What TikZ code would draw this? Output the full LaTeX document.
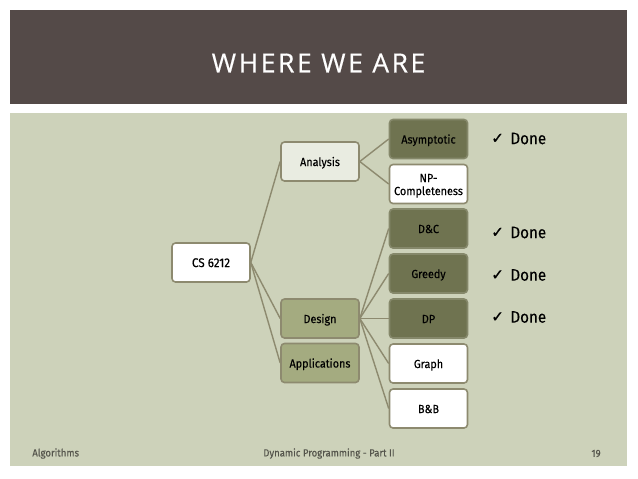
\documentclass[tikz,border=0pt]{standalone}
\usepackage{fontspec}
\setmainfont[FakeBold=0.25,FakeStretch=0.92]{Fira Sans}
\newfontfamily\titlefont[LetterSpace=10,FakeBold=0.5]{Open Sans}
\newfontfamily\checkfont[FakeBold=1.2]{DejaVu Sans}
\definecolor{headbrown}{HTML}{544A48}
\definecolor{bodysage}{HTML}{CDD2BA}
\definecolor{edgeolive}{HTML}{8D8A6F}
\definecolor{darkolive}{HTML}{6F7350}
\definecolor{midolive}{HTML}{A4AB80}
\definecolor{paleolive}{HTML}{E9ECE1}
\definecolor{footgray}{HTML}{55554C}
\newlength{\pxu}
\setlength{\pxu}{0.02cm}
\tikzset{
  box/.style={draw=edgeolive,line width=0.9pt,rounded corners=2pt,minimum width=78\pxu,minimum height=39\pxu,inner sep=0pt,align=center,font=\fontsize{6.7}{7.4}\selectfont,text=black,text height=5.2pt,text depth=0pt},
  whitebox/.style={box,fill=white},
  palebox/.style={box,fill=paleolive},
  midbox/.style={box,fill=midolive},
  darkbox/.style={box,fill=darkolive,draw=darkolive!85!white},
  link/.style={draw=edgeolive,line width=0.8pt},
  donemark/.style={font=\fontsize{9.4}{11}\selectfont,anchor=west,inner sep=0pt},
  foot/.style={font=\fontsize{5.9}{7}\selectfont,text=footgray,inner sep=0pt}
}
\begin{document}
\begin{tikzpicture}[x=0.02cm,y=-0.02cm]
	\useasboundingbox (0,0) rectangle (638,478);
	\fill[headbrown] (10,10) rectangle (627,104);
	\fill[bodysage] (10,113) rectangle (627,466);
	\node[font=\titlefont\fontsize{15}{17}\selectfont,text=white,inner sep=0pt] (title) at (318.5,63) {WHERE WE ARE};
	% tree
	\node[whitebox] (cs) at (211,262.5) {\fontsize{7.2}{8}\selectfont CS 6212};
	\node[palebox] (analysis) at (320,161.5) {Analysis};
	\node[midbox] (design) at (320,318.5) {Design};
	\node[midbox] (applications) at (320,363) {Applications};
	\node[darkbox] (asymptotic) at (428.5,139) {Asymptotic};
	\node[whitebox,text height=12.6pt,text depth=0pt] (npc) at (428.5,184) {NP-\\Completeness};
	\node[darkbox] (dc) at (428.5,228.5) {D\&C};
	\node[darkbox] (greedy) at (428.5,273.5) {Greedy};
	\node[darkbox] (dp) at (428.5,318.5) {DP};
	\node[whitebox] (graph) at (428.5,363.5) {Graph};
	\node[whitebox] (bb) at (428.5,408.5) {B\&B};
	\foreach \kid in {analysis,design,applications}
		\draw[link] (cs.east)--(\kid.west);
	\foreach \kid in {asymptotic,npc}
		\draw[link] (analysis.east)--(\kid.west);
	\foreach \kid in {dc,greedy,dp,graph,bb}
		\draw[link] (design.east)--(\kid.west);
	% done marks
	\foreach \nm/\yy in {a/138.5,b/232.5,c/275,d/317}{
		\node[donemark] (check\nm) at (491,\yy) {\checkfont\fontsize{8.5}{9}\selectfont ✓};
		\node[donemark] (done\nm) at (510,\yy) {Done};
	}
	% footer
	\node[foot,anchor=west] (footl) at (32,453.5) {Algorithms};
	\node[foot] (footm) at (329,453.5) {Dynamic Programming - Part II};
	\node[foot,anchor=east] (footr) at (601,453.5) {19};
\end{tikzpicture}
\end{document}
